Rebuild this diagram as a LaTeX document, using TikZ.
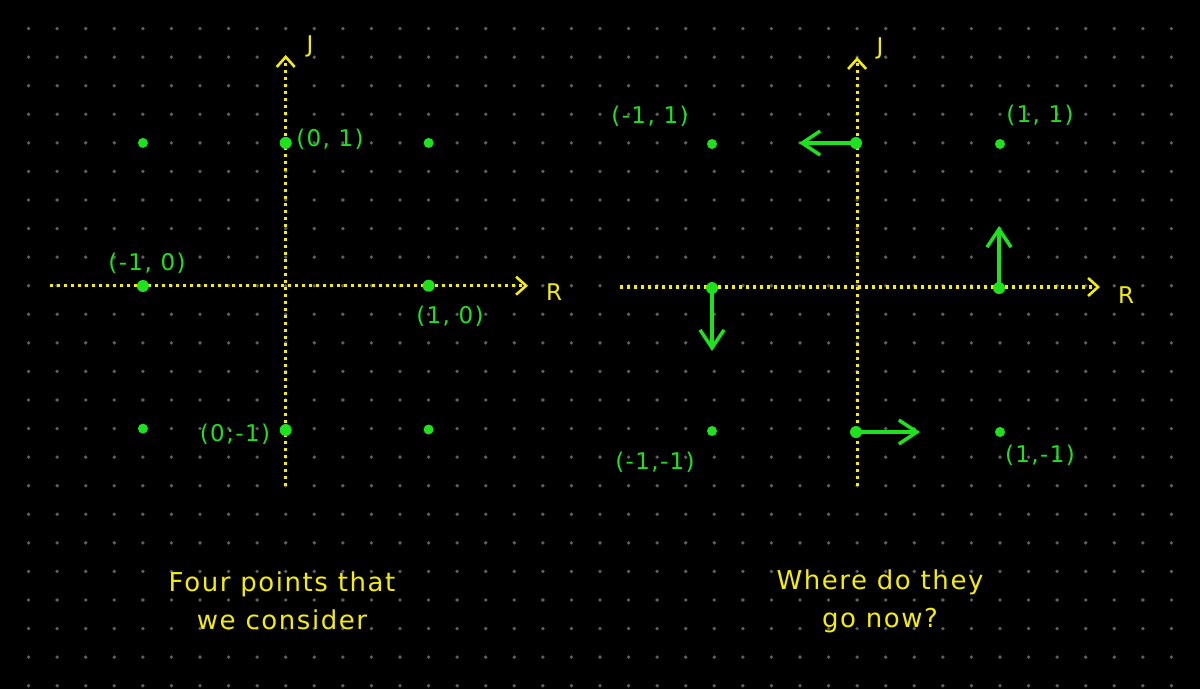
\documentclass[tikz,border=0pt]{standalone}
\usepackage{fontspec}
\usetikzlibrary{arrows.meta}
\newfontfamily\hand[LetterSpace=6]{DejaVu Sans}
\definecolor{gridgray}{RGB}{95,95,95}
\definecolor{ptgreen}{RGB}{30,226,30}
\definecolor{axyellow}{RGB}{245,238,0}
\tikzset{
  axisline/.style={axyellow, line width=3.2pt, dash pattern=on 3.2pt off 3.8pt,
    -{Straight Barb[length=10pt,width=18pt,line width=2.6pt]}},
  pt/.style={circle, fill=ptgreen, inner sep=0pt, minimum size=12pt},
  spt/.style={circle, fill=ptgreen, inner sep=0pt, minimum size=10pt},
  mv/.style={ptgreen, line width=3.5pt, -{Straight Barb[length=18pt,width=24pt,line width=3.5pt]}},
  lbl/.style={text=ptgreen, font=\hand\fontsize{23}{26}\selectfont, inner sep=0pt},
  axlbl/.style={text=axyellow, font=\hand\fontsize{23}{26}\selectfont, inner sep=0pt},
  note/.style={text=axyellow, font=\hand\fontsize{26}{38}\selectfont, inner sep=0pt, align=center}
}
\begin{document}
\begin{tikzpicture}[x=1pt,y=-1pt]
\fill[black] (0,0) rectangle (1200,689);
\useasboundingbox (0,0) rectangle (1200,689);
% dot grid
\foreach \i in {1,...,41}{
  \foreach \j in {1,...,24}{
    \fill[gridgray] ({\i*28.571},{\j*28.571}) circle (1.9pt);
  }
}
% ---------- left diagram ----------
\coordinate (lxl) at (50,285.7);
\coordinate (lxr) at (528,285.7);
\coordinate (lyb) at (285.7,486);
\coordinate (lyt) at (285.7,55);
\draw[axisline] (lxl) -- (lxr);
\draw[axisline] (lyb) -- (lyt);
\node[axlbl] (lJ) at (310,46) {J};
\node[axlbl] (lR) at (554,292) {R};
\node[spt] (lmp) at (142.9,142.9) {};
\node[pt]  (l0p) at (285.7,142.9) {};
\node[spt] (lpp) at (428.6,142.9) {};
\node[pt]  (lm0) at (142.9,286) {};
\node[pt]  (lp0) at (428.6,285.7) {};
\node[spt] (lmm) at (142.9,428.6) {};
\node[pt]  (l0m) at (285.7,430) {};
\node[spt] (lpm) at (428.6,429.5) {};
\node[lbl] (tl0p) at (330,139) {(0, 1)};
\node[lbl] (tlm0) at (147,263) {(-1, 0)};
\node[lbl] (tlp0) at (450,316) {(1, 0)};
\node[lbl] (tl0m) at (235,434) {(0;-1)};
\node[note] (nl) at (282,601) {Four points that\\we consider};
% ---------- right diagram ----------
\coordinate (rxl) at (620,287);
\coordinate (rxr) at (1100,287);
\coordinate (ryb) at (857.1,486);
\coordinate (ryt) at (857.1,57);
\draw[axisline] (rxl) -- (rxr);
\draw[axisline] (ryb) -- (ryt);
\node[axlbl] (rJ) at (880,48) {J};
\node[axlbl] (rR) at (1126,295) {R};
\node[spt] (rmp) at (712,144) {};
\node[pt]  (r0p) at (856,143) {};
\node[spt] (rpp) at (1000,144) {};
\node[pt]  (rm0) at (712,288) {};
\node[pt]  (rp0) at (999,288) {};
\node[spt] (rmm) at (712,431) {};
\node[pt]  (r0m) at (856,432) {};
\node[spt] (rpm) at (1000,432) {};
\coordinate (a1) at (799,143);
\coordinate (a2) at (999,226);
\coordinate (a3) at (712,351);
\coordinate (a4) at (920,432);
\draw[mv] (r0p.center) -- (a1);
\draw[mv] (rp0.center) -- (a2);
\draw[mv] (rm0.center) -- (a3);
\draw[mv] (r0m.center) -- (a4);
\node[lbl] (trmp) at (650,116) {(-1, 1)};
\node[lbl] (trpp) at (1040,115) {(1, 1)};
\node[lbl] (trmm) at (655,462) {(-1,-1)};
\node[lbl] (trpm) at (1040,455) {(1,-1)};
\node[note] (nr) at (880,601) {Where do they\\go now?};
\end{tikzpicture}
\end{document}
